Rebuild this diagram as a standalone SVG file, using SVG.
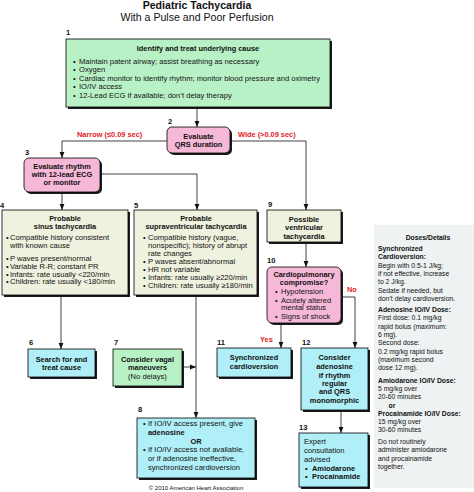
<svg xmlns="http://www.w3.org/2000/svg" width="474" height="492" viewBox="0 0 474 492">
<defs>
<style>
text{font-family:"Liberation Sans",Arial,sans-serif;fill:#111}
.t{font-size:10.6px;text-anchor:middle}
.b{font-size:7.4px;font-weight:bold}
.r{font-size:7.6px}
.c{text-anchor:middle}
.n{font-size:7.6px;font-weight:bold}
.d{font-size:6.8px}
.db{font-size:6.8px;font-weight:bold}
.red{font-size:7.4px;font-weight:bold;fill:#e3201f}
.sh{fill:#1c1c1c}
.bx{stroke:#000;stroke-width:0.8}
.g{fill:#b9f1c6}
.p{fill:#f5b8d7}
.cy{fill:#b0eff7}
.iv{fill:#eef2de}
.ln{fill:none;stroke:#111;stroke-width:0.8}
</style>
<marker id="ah" markerUnits="userSpaceOnUse" markerWidth="6" markerHeight="6" viewBox="0 0 6 6" refX="6" refY="3" orient="auto">
<path d="M0,0.6 L6,3 L0,5.4 Z" fill="#111"/>
</marker>
</defs>
<rect width="474" height="492" fill="#fff"/>

<g id="title">
<text class="t" x="197" y="9" font-weight="bold">Pediatric Tachycardia</text>
<text class="t" x="197" y="21">With a Pulse and Poor Perfusion</text>
</g>

<g id="connectors">
<line class="ln" x1="197" y1="109" x2="197" y2="127" marker-end="url(#ah)"/>
<polyline class="ln" points="167,141 62,141 62,158" marker-end="url(#ah)"/>
<polyline class="ln" points="230,141 306,141 306,210" marker-end="url(#ah)"/>
<line class="ln" x1="62" y1="194" x2="62" y2="210" marker-end="url(#ah)"/>
<polyline class="ln" points="100,174 197,174 197,210" marker-end="url(#ah)"/>
<line class="ln" x1="61" y1="297" x2="61" y2="349" marker-end="url(#ah)"/>
<line class="ln" x1="196" y1="297" x2="196" y2="418" marker-end="url(#ah)"/>
<line class="ln" x1="184" y1="367" x2="196" y2="367" marker-end="url(#ah)"/>
<line class="ln" x1="306" y1="244" x2="306" y2="267" marker-end="url(#ah)"/>
<line class="ln" x1="281" y1="325" x2="281" y2="348" marker-end="url(#ah)"/>
<polyline class="ln" points="341,297 355,297 355,348" marker-end="url(#ah)"/>
<line class="ln" x1="341" y1="412" x2="341" y2="433" marker-end="url(#ah)"/>
<text class="red" x="77" y="136.5">Narrow (≤0.09 sec)</text>
<text class="red" x="238" y="136.5">Wide (&gt;0.09 sec)</text>
<text class="red" x="260" y="341.5">Yes</text>
<text class="red" x="347" y="291.5">No</text>
</g>

<g id="n1">
<text class="n" x="66" y="34.5">1</text>
<rect class="sh" x="68" y="41" width="264" height="68"/>
<rect class="bx g" x="66" y="39" width="264" height="68"/>
<text class="b c" x="198" y="51">Identify and treat underlying cause</text>
<text class="r" x="73" y="63.5">•</text><text class="r" x="79" y="63.5">Maintain patent airway; assist breathing as necessary</text>
<text class="r" x="73" y="72">•</text><text class="r" x="79" y="72">Oxygen</text>
<text class="r" x="73" y="80.5">•</text><text class="r" x="79" y="80.5">Cardiac monitor to identify rhythm; monitor blood pressure and oximetry</text>
<text class="r" x="73" y="89">•</text><text class="r" x="79" y="89">IO/IV access</text>
<text class="r" x="73" y="98">•</text><text class="r" x="79" y="98">12-Lead ECG if available; don’t delay therapy</text>
</g>

<g id="n2">
<text class="n" x="168" y="123.5">2</text>
<rect class="sh" x="169" y="129" width="63" height="26" rx="5"/>
<rect class="bx p" x="167" y="127" width="63" height="26" rx="5"/>
<text class="b c" x="198.5" y="138.5">Evaluate</text>
<text class="b c" x="198.5" y="146.5">QRS duration</text>
</g>

<g id="n3">
<text class="n" x="25" y="155">3</text>
<rect class="sh" x="26" y="160" width="76" height="34" rx="5"/>
<rect class="bx p" x="24" y="158" width="76" height="34" rx="5"/>
<text class="b c" x="62" y="168.5">Evaluate rhythm</text>
<text class="b c" x="62" y="177">with 12-lead ECG</text>
<text class="b c" x="62" y="185">or monitor</text>
</g>

<g id="n4">
<text class="n" x="0" y="207.5">4</text>
<rect class="sh" x="4" y="212" width="126" height="85"/>
<rect class="bx iv" x="2" y="210" width="126" height="85"/>
<text class="b c" x="65" y="221">Probable</text>
<text class="b c" x="65" y="229">sinus tachycardia</text>
<text class="r" x="6" y="240">•</text><text class="r" x="10" y="240">Compatible history consistent</text>
<text class="r" x="10" y="247.5">with known cause</text>
<text class="r" x="6" y="261">•</text><text class="r" x="10" y="261">P waves present/normal</text>
<text class="r" x="6" y="268.5">•</text><text class="r" x="10" y="268.5">Variable R-R; constant PR</text>
<text class="r" x="6" y="276.5">•</text><text class="r" x="10" y="276.5">Infants: rate usually &lt;220/min</text>
<text class="r" x="6" y="284">•</text><text class="r" x="10" y="284">Children: rate usually &lt;180/min</text>
</g>

<g id="n5">
<text class="n" x="134" y="207.5">5</text>
<rect class="sh" x="136" y="212" width="123" height="85"/>
<rect class="bx iv" x="134" y="210" width="123" height="85"/>
<text class="b c" x="196" y="221">Probable</text>
<text class="b c" x="196" y="229">supraventricular tachycardia</text>
<text class="r" x="143" y="240">•</text><text class="r" x="148" y="240">Compatible history (vague,</text>
<text class="r" x="148" y="248">nonspecific); history of abrupt</text>
<text class="r" x="148" y="255.8">rate changes</text>
<text class="r" x="143" y="264">•</text><text class="r" x="148" y="264">P waves absent/abnormal</text>
<text class="r" x="143" y="271.5">•</text><text class="r" x="148" y="271.5">HR not variable</text>
<text class="r" x="143" y="279.8">•</text><text class="r" x="148" y="279.8">Infants: rate usually ≥220/min</text>
<text class="r" x="143" y="287.5">•</text><text class="r" x="148" y="287.5">Children: rate usually ≥180/min</text>
</g>

<g id="n9">
<text class="n" x="268" y="206.5">9</text>
<rect class="sh" x="269" y="212" width="74" height="32"/>
<rect class="bx iv" x="267" y="210" width="74" height="32"/>
<text class="b c" x="304" y="221.5">Possible</text>
<text class="b c" x="304" y="230">ventricular</text>
<text class="b c" x="304" y="239">tachycardia</text>
</g>

<g id="n10">
<text class="n" x="267" y="263">10</text>
<rect class="sh" x="269" y="269" width="74" height="56" rx="5"/>
<rect class="bx p" x="267" y="267" width="74" height="56" rx="5"/>
<text class="b c" x="304" y="277">Cardiopulmonary</text>
<text class="b c" x="304" y="285">compromise?</text>
<text class="r" x="275" y="294">•</text><text class="r" x="281" y="294">Hypotension</text>
<text class="r" x="275" y="302.5">•</text><text class="r" x="281" y="302.5">Acutely altered</text>
<text class="r" x="281" y="310">mental status</text>
<text class="r" x="275" y="318.5">•</text><text class="r" x="281" y="318.5">Signs of shock</text>
</g>

<g id="n6">
<text class="n" x="29" y="345">6</text>
<rect class="sh" x="30" y="351" width="67" height="28"/>
<rect class="bx cy" x="28" y="349" width="67" height="28"/>
<text class="b c" x="61.5" y="361.5">Search for and</text>
<text class="b c" x="61.5" y="370">treat cause</text>
</g>

<g id="n7">
<text class="n" x="114" y="345">7</text>
<rect class="sh" x="115" y="351" width="69" height="37"/>
<rect class="bx g" x="113" y="349" width="69" height="37"/>
<text class="b c" x="147.5" y="361.5">Consider vagal</text>
<text class="b c" x="147.5" y="370">maneuvers</text>
<text class="r c" x="147.5" y="378.5">(No delays)</text>
</g>

<g id="n11">
<text class="n" x="217" y="345">11</text>
<rect class="sh" x="219" y="350" width="74" height="29"/>
<rect class="bx cy" x="217" y="348" width="74" height="29"/>
<text class="b c" x="254" y="360">Synchronized</text>
<text class="b c" x="254" y="368.5">cardioversion</text>
</g>

<g id="n12">
<text class="n" x="302" y="345">12</text>
<rect class="sh" x="303" y="350" width="67" height="62"/>
<rect class="bx cy" x="301" y="348" width="67" height="62"/>
<text class="b c" x="334.5" y="360">Consider</text>
<text class="b c" x="334.5" y="368.5">adenosine</text>
<text class="b c" x="334.5" y="377.5">if rhythm</text>
<text class="b c" x="334.5" y="386">regular</text>
<text class="b c" x="334.5" y="394">and QRS</text>
<text class="b c" x="334.5" y="403">monomorphic</text>
</g>

<g id="n13">
<text class="n" x="299" y="430">13</text>
<rect class="sh" x="301" y="435" width="69" height="54"/>
<rect class="bx cy" x="299" y="433" width="69" height="54"/>
<text class="r" x="304" y="444">Expert</text>
<text class="r" x="304" y="453">consultation</text>
<text class="r" x="304" y="461.5">advised</text>
<text class="b" x="305" y="470.5">•</text><text class="b" x="312" y="470.5">Amiodarone</text>
<text class="b" x="305" y="479">•</text><text class="b" x="312" y="479">Procainamide</text>
</g>

<g id="n8">
<text class="n" x="138" y="412">8</text>
<rect class="sh" x="139" y="420" width="118" height="60"/>
<rect class="bx cy" x="137" y="418" width="118" height="60"/>
<text class="r" x="143" y="426">•</text><text class="r" x="148" y="426">If IO/IV access present, give</text>
<text class="b" x="148" y="435">adenosine</text>
<text class="b c" x="196" y="443.5">OR</text>
<text class="r" x="143" y="452">•</text><text class="r" x="148" y="452">If IO/IV access not available,</text>
<text class="r" x="148" y="461">or if adenosine ineffective,</text>
<text class="r" x="148" y="470">synchronized cardioversion</text>
</g>

<g id="doses">
<rect x="374" y="225" width="100" height="263" fill="#eef2f3"/>
<text class="db c" x="428" y="239.5">Doses/Details</text>
<text class="db" x="378" y="251">Synchronized</text>
<text class="db" x="378" y="259.3">Cardioversion:</text>
<text class="d" x="378" y="267.6">Begin with 0.5-1 J/kg;</text>
<text class="d" x="378" y="275.9">if not effective, increase</text>
<text class="d" x="378" y="284.2">to 2 J/kg.</text>
<text class="d" x="378" y="292.5">Sedate if needed, but</text>
<text class="d" x="378" y="300.8">don’t delay cardioversion.</text>
<text class="db" x="378" y="312">Adenosine IO/IV Dose:</text>
<text class="d" x="378" y="320.3">First dose: 0.1 mg/kg</text>
<text class="d" x="378" y="328.6">rapid bolus (maximum:</text>
<text class="d" x="378" y="336.9">6 mg).</text>
<text class="d" x="378" y="345.2">Second dose:</text>
<text class="d" x="378" y="353.5">0.2 mg/kg rapid bolus</text>
<text class="d" x="378" y="361.8">(maximum second</text>
<text class="d" x="378" y="370.1">dose 12 mg).</text>
<text class="db" x="378" y="382.6">Amiodarone IO/IV Dose:</text>
<text class="d" x="378" y="390.9">5 mg/kg over</text>
<text class="d" x="378" y="399.2">20-60 minutes</text>
<text class="db c" x="392" y="407.5">or</text>
<text class="db" x="378" y="415.8">Procainamide IO/IV Dose:</text>
<text class="d" x="378" y="424.1">15 mg/kg over</text>
<text class="d" x="378" y="432.4">30-60 minutes</text>
<text class="d" x="378" y="444">Do not routinely</text>
<text class="d" x="378" y="452.3">administer amiodarone</text>
<text class="d" x="378" y="460.6">and procainamide</text>
<text class="d" x="378" y="468.9">together.</text>
</g>

<g id="copyright">
<text x="196" y="490" font-size="6" text-anchor="middle">© 2010 American Heart Association</text>
</g>
</svg>
